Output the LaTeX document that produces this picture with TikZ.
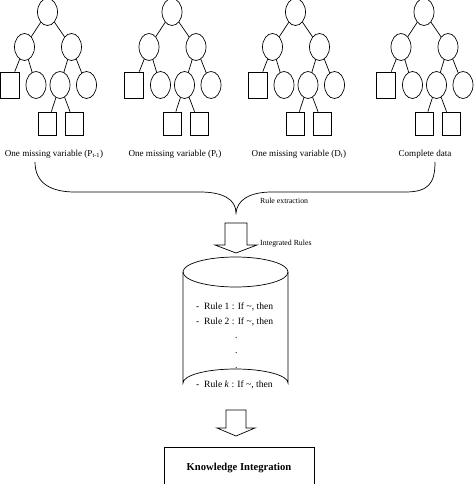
\documentclass[tikz,border=0pt]{standalone}
\usepackage{fontspec}
\setmainfont{Liberation Serif}
\usetikzlibrary{shapes.geometric}
\tikzset{
  ln/.style={line width=0.7pt},
  ell/.style={draw, ln, ellipse, minimum width=20pt, minimum height=27pt, inner sep=0pt},
  lbox/.style={draw, ln, rectangle, minimum width=19pt, minimum height=26pt, inner sep=0pt},
  sbox/.style={draw, ln, rectangle, minimum width=18pt, minimum height=23pt, inner sep=0pt},
  lbl/.style={font=\fontsize{9.1}{10}\selectfont, inner sep=0pt},
  small/.style={font=\fontsize{7.8}{9}\selectfont, inner sep=0pt, anchor=west},
  rule/.style={font=\fontsize{9.6}{10}\selectfont, inner sep=0pt, anchor=west},
  blockarrow/.style={draw, ln, fill=white},
  tree/.pic={
    \node[ell]  (-r) at (0,12) {};
    \node[ell]  (-l) at (-23,47) {};
    \node[ell]  (-m) at (24,47) {};
    \node[lbox] (-s) at (-38,85) {};
    \node[ell]  (-a) at (-11.5,85) {};
    \node[ell]  (-b) at (12.5,85) {};
    \node[ell]  (-c) at (39,85) {};
    \node[sbox] (-d) at (0,123.5) {};
    \node[sbox] (-e) at (27,123.5) {};
    \draw[ln] (-r) -- (-l);
    \draw[ln] (-r) -- (-m);
    \draw[ln] (-l) -- (-s);
    \draw[ln] (-l) -- (-a);
    \draw[ln] (-m) -- (-b);
    \draw[ln] (-m) -- (-c);
    \draw[ln] (-b) -- (-d);
    \draw[ln] (-b) -- (-e);
  }
}
\begin{document}
\begin{tikzpicture}[x=1pt,y=-1pt]
\clip (0,0) rectangle (474,484);
\fill[white] (0,0) rectangle (474,484);

\pic (t1) at (47.5,0) {tree};
\pic (t2) at (172,0) {tree};
\pic (t3) at (295.5,0) {tree};
\pic (t4) at (424,0) {tree};

\node[lbl] (lab1) at (54,154) {One missing variable (P\textsubscript{t-1})};
\node[lbl] (lab2) at (175,154) {One missing variable (P\textsubscript{t})};
\node[lbl] (lab3) at (299,154) {One missing variable (D\textsubscript{t})};
\node[lbl] (lab4) at (425,154) {Complete data};

\coordinate (b1) at (35,162);
\coordinate (b2) at (435,162);
\coordinate (tip) at (236,213);
\draw[ln] (b1) .. controls (35,184) and (52,192) .. (75,192) -- (200,192)
  .. controls (224,192) and (236,200) .. (tip)
  .. controls (237,201) and (248,192) .. (272,192) -- (405,192)
  .. controls (428,192) and (435,184) .. (b2);
\node[small] (rx) at (260,201) {Rule extraction};

\draw[blockarrow] (225,223) -- (247,223) -- (247,245) -- (257,245) -- (236,253)
  -- (215,245) -- (225,245) -- cycle;
\node[small] (ir) at (260,244) {Integrated Rules};

% cylinder
\draw[ln] (183,272) -- (183,383) arc[start angle=180, end angle=360, x radius=52.5, y radius=14] -- (288,272);
\draw[ln] (235.5,272) ellipse[x radius=52.5, y radius=15];

\node[rule] (r1) at (196,307) {-\ \ Rule 1 : If \textasciitilde, then};
\node[rule] (r2) at (196,322) {-\ \ Rule 2 : If \textasciitilde, then};
\node[rule] (d1) at (235,338) {.};
\node[rule] (d2) at (235,353) {.};
\node[rule] (d3) at (235,368) {.};
\node[rule] (rk) at (196,385) {-\ \ Rule \textit{k} : If \textasciitilde, then};

\draw[blockarrow] (226,410) -- (246,410) -- (246,428) -- (255,428) -- (236,436)
  -- (217,428) -- (226,428) -- cycle;

\node[draw, ln, minimum width=150pt, minimum height=42pt, anchor=north, inner sep=0pt,
  font=\fontsize{10.6}{12}\selectfont\bfseries] (ki) at (239,447) {Knowledge Integration};
\end{tikzpicture}
\end{document}
